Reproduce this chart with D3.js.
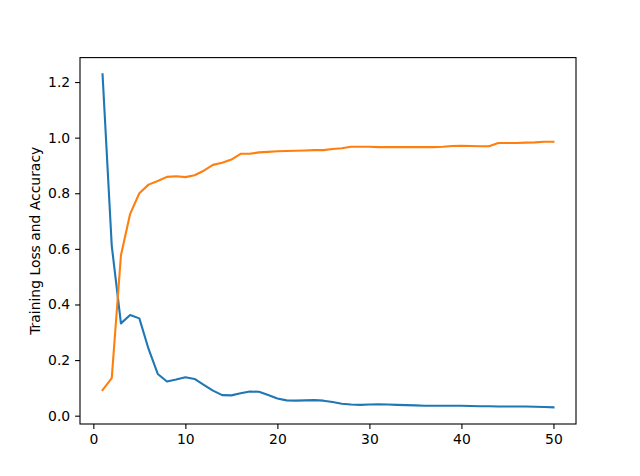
<!DOCTYPE html>
<html>
<head>
<meta charset="utf-8">
<script src="https://cdn.jsdelivr.net/npm/d3@7"></script>
<style>
  body { margin: 0; background: #fff; }
  svg { display: block; font-family: "DejaVu Sans", sans-serif; }
</style>
</head>
<body>
<script>
// Data (epochs 1..50)
const epochs = d3.range(1, 51);
const loss = [
  1.228, 0.611, 0.332, 0.362, 0.350, 0.240, 0.150, 0.123, 0.130, 0.138,
  0.132, 0.111, 0.090, 0.074, 0.073, 0.081, 0.087, 0.086, 0.074, 0.062,
  0.055, 0.054, 0.055, 0.056, 0.054, 0.049, 0.043, 0.040, 0.039, 0.040,
  0.041, 0.040, 0.039, 0.038, 0.037, 0.036, 0.036, 0.036, 0.036, 0.036,
  0.035, 0.034, 0.034, 0.033, 0.033, 0.033, 0.033, 0.032, 0.031, 0.030
];
const accuracy = [
  0.092, 0.135, 0.577, 0.726, 0.800, 0.831, 0.844, 0.859, 0.861, 0.858,
  0.865, 0.881, 0.902, 0.910, 0.921, 0.942, 0.942, 0.947, 0.949, 0.951,
  0.952, 0.953, 0.954, 0.955, 0.955, 0.959, 0.962, 0.967, 0.967, 0.967,
  0.966, 0.966, 0.966, 0.966, 0.966, 0.966, 0.966, 0.967, 0.970, 0.971,
  0.970, 0.969, 0.969, 0.981, 0.981, 0.981, 0.982, 0.983, 0.985, 0.985
];
const series = [
  { name: 'loss', values: loss, color: '#1f77b4' },
  { name: 'accuracy', values: accuracy, color: '#ff7f0e' }
];
const yLabel = 'Training Loss and Accuracy';

const width = 640, height = 476;
const margin = { top: 57.6, right: 64, bottom: 52, left: 80 };
const iw = width - margin.left - margin.right;
const ih = height - margin.top - margin.bottom;

// matplotlib-like 5% padding
const xPad = (d3.max(epochs) - d3.min(epochs)) * 0.05;
const allVals = loss.concat(accuracy);
const yMin = d3.min(allVals), yMax = d3.max(allVals);
const yPad = (yMax - yMin) * 0.05;

const x = d3.scaleLinear()
  .domain([d3.min(epochs) - xPad, d3.max(epochs) + xPad])
  .range([0, iw]);
const y = d3.scaleLinear()
  .domain([yMin - yPad, yMax + yPad])
  .range([ih, 0]);

const svg = d3.select('body').append('svg')
  .attr('width', width)
  .attr('height', height);

const g = svg.append('g')
  .attr('transform', `translate(${margin.left},${margin.top})`);

const line = d3.line()
  .x((d, i) => x(epochs[i]))
  .y(d => y(d));

g.append('g')
  .selectAll('path')
  .data(series)
  .join('path')
  .attr('fill', 'none')
  .attr('stroke', d => d.color)
  .attr('stroke-width', 2.1)
  .attr('stroke-linejoin', 'round')
  .attr('stroke-linecap', 'square')
  .attr('d', d => line(d.values));

// axes
const xAxis = g.append('g')
  .attr('transform', `translate(0,${ih})`)
  .call(d3.axisBottom(x).tickValues([0, 10, 20, 30, 40, 50]).tickSize(4.9).tickPadding(4.9).tickFormat(d3.format('d')));
const yAxis = g.append('g')
  .call(d3.axisLeft(y).tickValues([0, 0.2, 0.4, 0.6, 0.8, 1.0, 1.2]).tickSize(4.9).tickPadding(4.9).tickFormat(d3.format('.1f')));

[xAxis, yAxis].forEach(a => {
  a.select('.domain').remove();
  a.selectAll('line').attr('stroke', '#000').attr('stroke-width', 1.1);
  a.selectAll('text').attr('fill', '#000').style('font-size', '13.9px')
    .style('font-family', '"DejaVu Sans", sans-serif');
});

// frame
g.append('rect')
  .attr('width', iw)
  .attr('height', ih)
  .attr('fill', 'none')
  .attr('stroke', '#000')
  .attr('stroke-width', 1.1);

// y label
svg.append('text')
  .attr('transform', `translate(40,${margin.top + ih / 2}) rotate(-90)`)
  .attr('text-anchor', 'middle')
  .style('font-size', '13.9px')
  .text(yLabel);
</script>
</body>
</html>
